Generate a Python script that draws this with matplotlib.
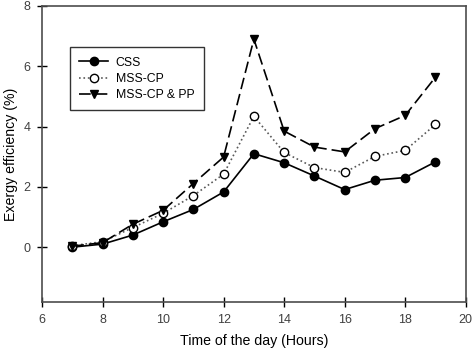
import matplotlib
matplotlib.use('Agg')
import matplotlib.pyplot as plt

plt.rcParams['font.family'] = ['Liberation Sans', 'DejaVu Sans']

hours = [7, 8, 9, 10, 11, 12, 13, 14, 15, 16, 17, 18, 19]
css = [0.0, 0.1, 0.4, 0.84, 1.25, 1.83, 3.1, 2.8, 2.36, 1.91, 2.22, 2.31, 2.83]
mss_cp = [0.05, 0.18, 0.65, 1.12, 1.71, 2.42, 4.34, 3.14, 2.64, 2.48, 3.01, 3.21, 4.07]
mss_cp_pp = [0.03, 0.15, 0.76, 1.22, 2.11, 2.99, 6.9, 3.85, 3.32, 3.16, 3.93, 4.37, 5.64]

fig = plt.figure(figsize=(4.74, 3.52), dpi=100)
ax = fig.add_axes([0.0886, 0.142, 0.894, 0.841])

ax.plot(hours, css, color='k', lw=1.2, ls='-', marker='o', ms=6, label='CSS')
ax.plot(hours, mss_cp, color='0.35', lw=1.2, ls=':', marker='o', ms=6,
        mfc='white', mec='k', label='MSS-CP')
ax.plot(hours, mss_cp_pp, color='k', lw=1.2, ls=(0, (7, 3)), marker='v', ms=6,
        label='MSS-CP & PP')

ax.set_xlim(6, 20)
ax.set_ylim(-1.82, 8)
ax.set_xticks([6, 8, 10, 12, 14, 16, 18, 20])
ax.set_yticks([0, 2, 4, 6, 8])
ax.tick_params(direction='inout', length=7, width=1, labelsize=9, colors='k',
               labelcolor='0.25', pad=5)
for s in ax.spines.values():
    s.set_linewidth(1.2)
    s.set_color('0.3')

ax.set_xlabel('Time of the day (Hours)', fontsize=10.2, labelpad=6)
ax.set_ylabel('Exergy efficiency (%)', fontsize=10.2, labelpad=4)

leg = ax.legend(loc='upper left', bbox_to_anchor=(0.066, 0.86), borderaxespad=0,
                fontsize=8.8, frameon=True, fancybox=False, edgecolor='k',
                handlelength=2.4, handletextpad=0.6, borderpad=0.75,
                labelspacing=0.35)
leg.get_frame().set_linewidth(1)

fig.savefig('out.png', dpi=100)
